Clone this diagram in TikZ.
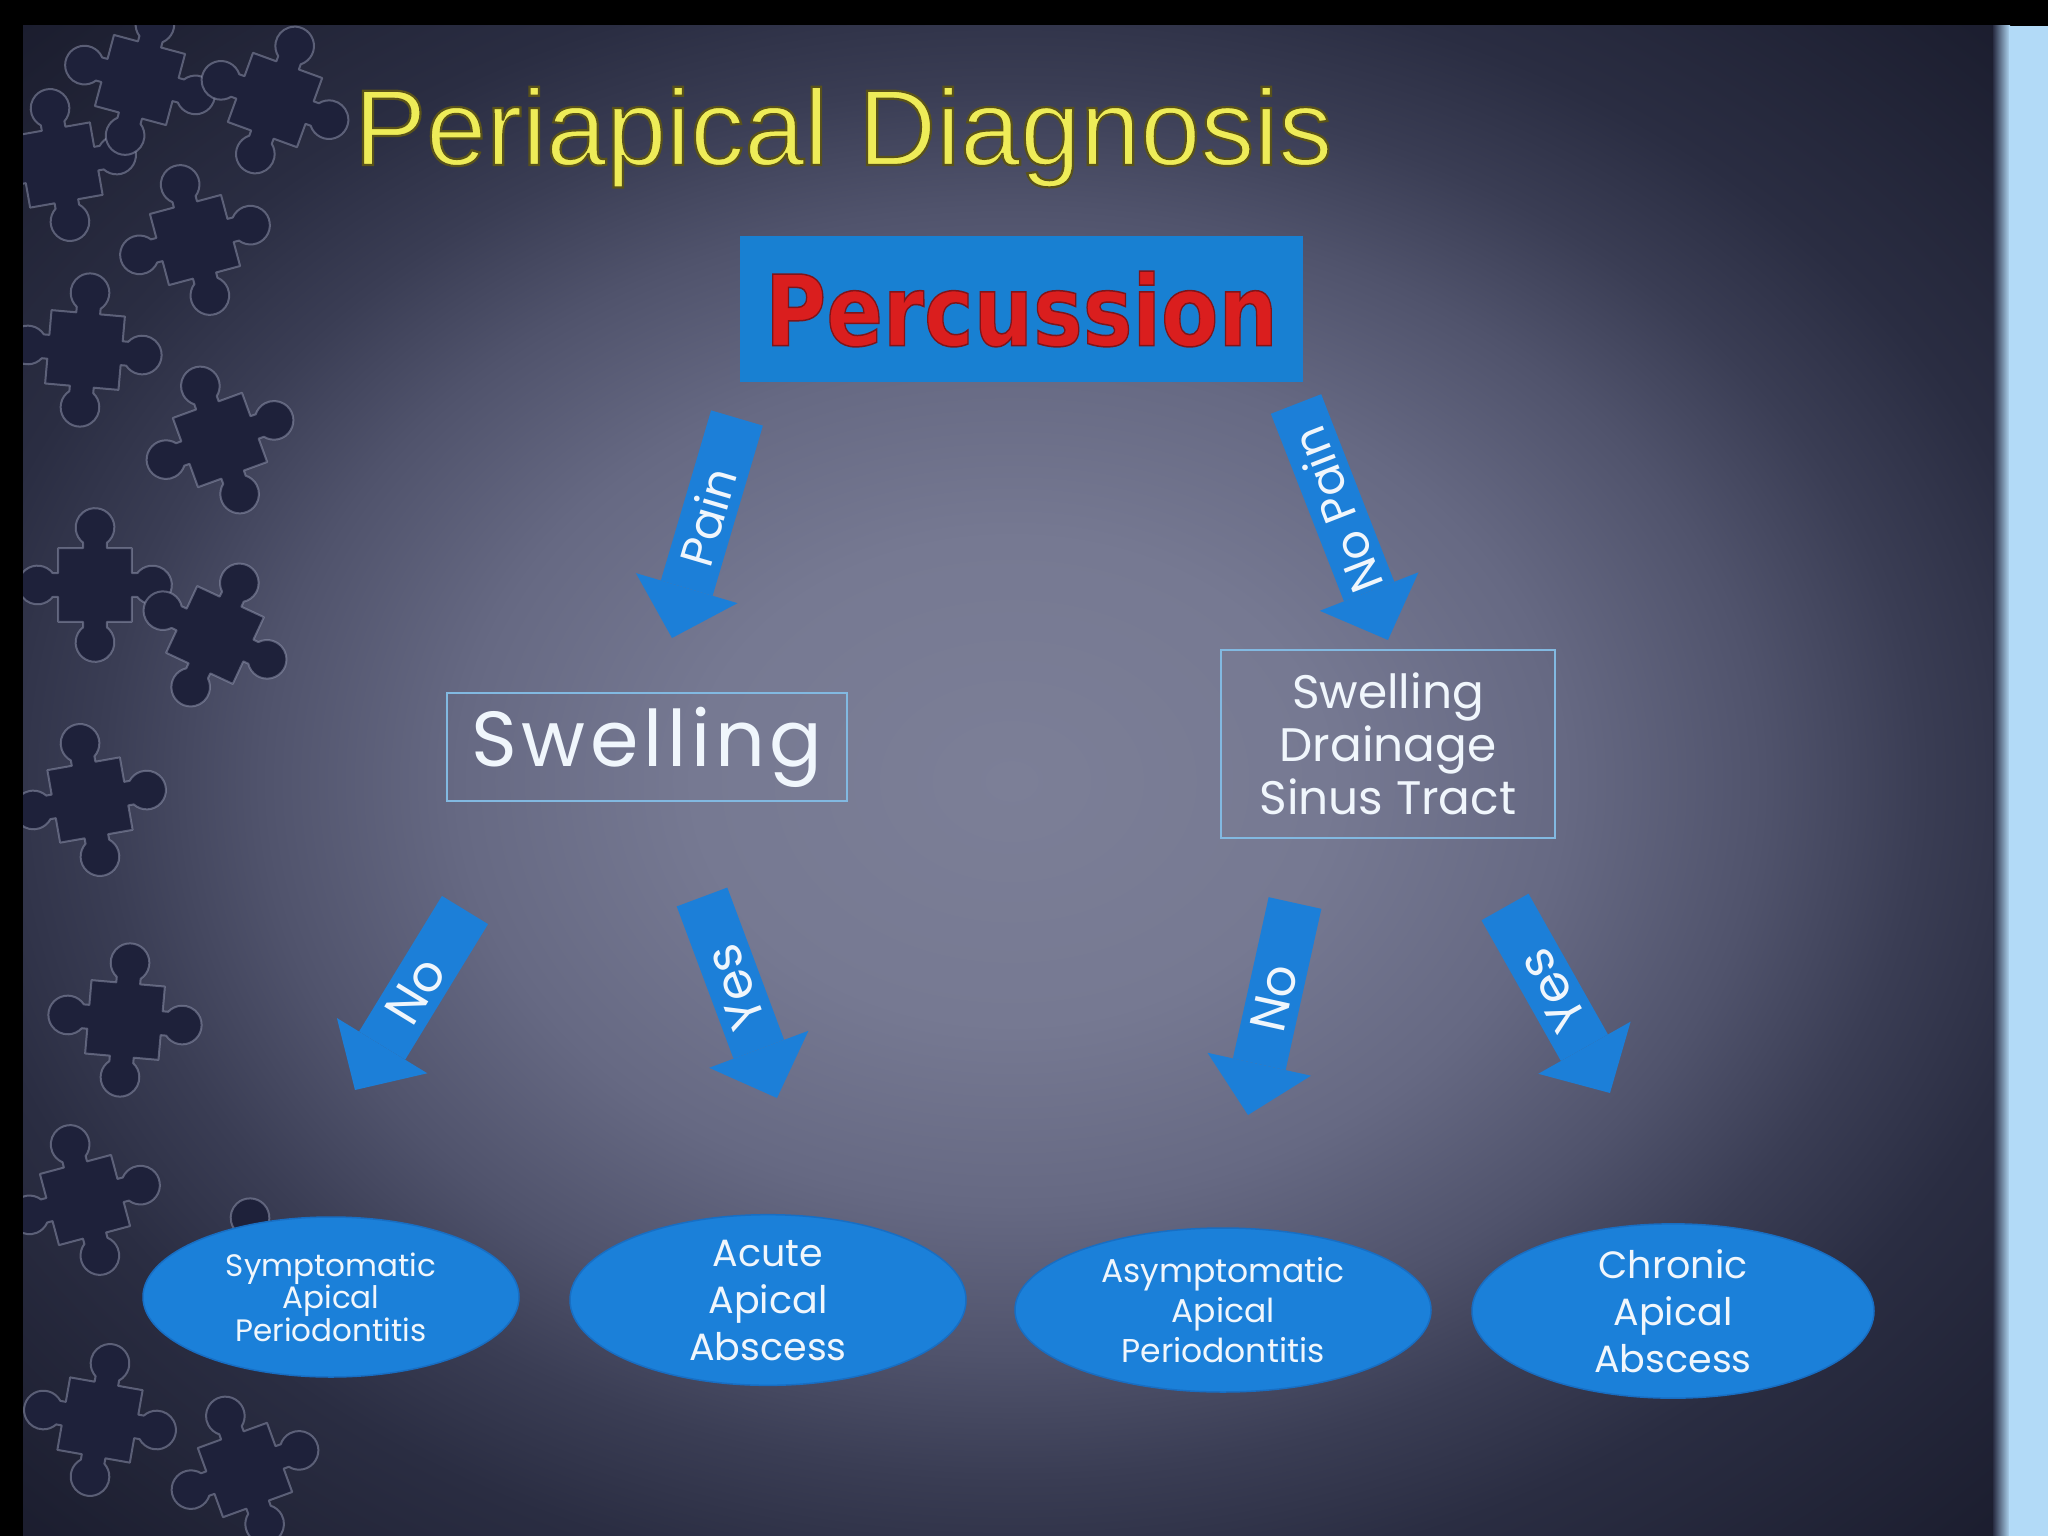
\documentclass[tikz,border=0pt]{standalone}
\usepackage{fontspec}
\setmainfont{Liberation Sans}
\newfontfamily\titlefont{Liberation Sans}
\newfontfamily\percfont{DejaVu Sans}
\newfontfamily\gothic{Poppins}
\usetikzlibrary{arrows.meta,shapes.geometric}

\definecolor{bgA}{RGB}{124,127,151}
\definecolor{bgB}{RGB}{118,121,146}
\definecolor{bgC}{RGB}{102,105,131}
\definecolor{bgD}{RGB}{80,83,108}
\definecolor{bgE}{RGB}{58,61,84}
\definecolor{bgF}{RGB}{42,45,66}
\definecolor{bgG}{RGB}{26,28,45}
\definecolor{stripblue}{RGB}{178,218,247}
\definecolor{stripdark}{RGB}{40,44,66}
\definecolor{piecefill}{RGB}{30,33,58}
\definecolor{pieceedge}{RGB}{150,155,180}
\definecolor{titleyellow}{RGB}{238,236,88}
\definecolor{percblue}{RGB}{24,128,210}
\definecolor{percred}{RGB}{218,30,30}
\definecolor{arrowblue}{RGB}{28,127,216}
\definecolor{ellblue}{RGB}{27,128,217}
\definecolor{ellrim}{RGB}{24,110,195}
\definecolor{boxline}{RGB}{130,185,225}
\definecolor{softwhite}{RGB}{240,246,252}

% outlined text (fill + stroke) for title and Percussion
\newcommand{\outlinedtext}[3]{%
  \special{pdf:literal direct 2 Tr #1 RG #2 w}#3\special{pdf:literal direct 0 Tr}}

\pgfdeclareradialshading{slidebg}{\pgfpoint{0bp}{0bp}}{color(0bp)=(bgA); color(8bp)=(bgB); color(14bp)=(bgC); color(19bp)=(bgD); color(23bp)=(bgE); color(27bp)=(bgF); color(36bp)=(bgG)}

\tikzset{
  puzzle/.pic={
    \path[pic actions] (-0.8,-0.8) -- (-0.26,-0.8) -- (-0.26,-0.92)
      arc[start angle=128.2,end angle=411.8,radius=0.42] -- (0.26,-0.8) -- (0.8,-0.8)
      -- (0.8,-0.26) -- (0.92,-0.26)
      arc[start angle=218.2,end angle=501.8,radius=0.42] -- (0.8,0.26) -- (0.8,0.8)
      -- (0.26,0.8) -- (0.26,0.92)
      arc[start angle=308.2,end angle=591.8,radius=0.42] -- (-0.26,0.8) -- (-0.8,0.8)
      -- (-0.8,0.26) -- (-0.92,0.26)
      arc[start angle=38.2,end angle=321.8,radius=0.42] -- (-0.8,-0.26) -- cycle;
  },
  piece/.style={fill=piecefill, draw=pieceedge, draw opacity=0.5, line width=2pt, line join=round},
  conn/.style={draw=arrowblue, line width=54pt, -{Triangle[width=106pt,length=52pt,line width=0pt]}},
  lbl/.style={pos=0.55, sloped, allow upside down, text=softwhite, inner sep=0, font=\gothic\fontsize{46}{50}\selectfont},
  lbltwo/.style={lbl, font=\gothic\fontsize{50}{54}\selectfont},
  decbox/.style={draw=boxline, line width=2pt, inner sep=0, text=softwhite, align=center},
  outcome/.style={ellipse, fill=ellblue, draw=ellrim, line width=1.5pt, inner sep=0, text=softwhite, align=center},
}

\begin{document}
\begin{tikzpicture}[x=1pt,y=1pt]
\useasboundingbox (0,0) rectangle (2048,-1536);
% frame and background
\fill[black] (0,0) rectangle (2048,-1536);
\shade[shading=slidebg] (23,-26) rectangle (2000,-1536);
\shade[left color=stripdark, right color=stripblue] (1993,-26) rectangle (2010,-1536);
\fill[stripblue] (2009,-26) rectangle (2048,-1536);

% puzzle pieces on the left
\begin{scope}
\clip (23,-26) rectangle (1993,-1536);
\foreach \px/\py/\pr in {60/165/10, 140/80/-15, 275/100/-20, 195/240/15, 85/350/-5, 220/440/20, 95/585/0, 215/635/-25, 90/800/10, 125/1020/-5, 85/1200/15, 255/1275/5, 100/1420/-10, 245/1470/20}
  \pic[piece, rotate=\pr, scale=46] at (\px,-\py) {puzzle};
\end{scope}

% title
\node (title) [anchor=base west, inner sep=0, text=titleyellow] at (354,-165) {\titlefont\fontsize{108}{110}\selectfont\outlinedtext{0.35 0.32 0.1}{2.2}{Periapical Diagnosis}};

% percussion box
\node (perc) [fill=percblue, minimum width=563pt, minimum height=146pt, inner sep=0, text=percred] at (1021.5,-309) {\scalebox{0.852}[1]{\percfont\bfseries\fontsize{98}{100}\selectfont\outlinedtext{0.5 0.08 0.1}{1.5}{Percussion}}};

% decision boxes
\node (sw) [decbox, minimum width=400pt, minimum height=108pt, font=\gothic\fontsize{78}{84}\selectfont\addfontfeature{LetterSpace=6}] at (647,-747) {Swelling};
\node (sds) [decbox, minimum width=334pt, minimum height=188pt, font=\gothic\fontsize{47}{53}\selectfont] at (1388,-744) {Swelling\\Drainage\\Sinus Tract};

% outcome ellipses
\node (e1) [outcome, minimum width=376pt, minimum height=160pt, font=\gothic\fontsize{31}{29}\selectfont] at (331,-1297) {Symptomatic\\Apical\\Periodontitis};
\node (e2) [outcome, minimum width=396pt, minimum height=164pt, font=\gothic\fontsize{38}{47}\selectfont] at (768,-1300) {Acute\\Apical\\Abscess};
\node (e3) [outcome, minimum width=416pt, minimum height=164pt, font=\gothic\fontsize{33}{40}\selectfont] at (1223,-1310) {Asymptomatic\\Apical\\Periodontitis};
\node (e4) [outcome, minimum width=402pt, minimum height=165pt, font=\gothic\fontsize{38}{47}\selectfont] at (1673,-1311) {Chronic\\Apical\\Abscess};

% arrow end points
\coordinate (a1s) at (737,-418);  \coordinate (a1e) at (672,-638);
\coordinate (a2s) at (1296,-404); \coordinate (a2e) at (1388,-640);
\coordinate (b1s) at (465,-910);  \coordinate (b1e) at (355,-1090);
\coordinate (b2s) at (702,-897);  \coordinate (b2e) at (777,-1098);
\coordinate (b3s) at (1295,-903); \coordinate (b3e) at (1248,-1115);
\coordinate (b4s) at (1505,-907); \coordinate (b4e) at (1610,-1093);

\draw[conn] (a1s) -- (a1e);
\draw[conn] (a2s) -- (a2e);
\draw[conn] (b1s) -- (b1e);
\draw[conn] (b2s) -- (b2e);
\draw[conn] (b3s) -- (b3e);
\draw[conn] (b4s) -- (b4e);

\path (a1e) -- (a1s) node[lbl] (l1) {Pain};
\path (a2e) -- (a2s) node[lbl] (l2) {No Pain};
\path (b1e) -- (b1s) node[lbltwo] (l3) {No};
\path (b2e) -- (b2s) node[lbltwo] (l4) {Yes};
\path (b3e) -- (b3s) node[lbltwo] (l5) {No};
\path (b4e) -- (b4s) node[lbltwo] (l6) {Yes};
\end{tikzpicture}
\end{document}
